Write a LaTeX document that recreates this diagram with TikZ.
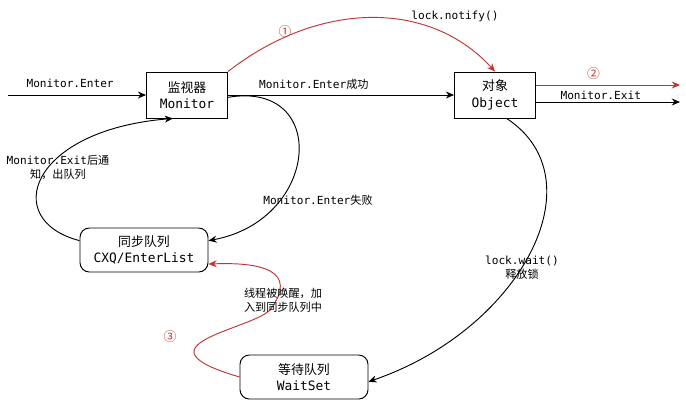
\documentclass[tikz,border=0pt]{standalone}
\usepackage{fontspec}
\setmainfont{DejaVu Sans Mono}
\newfontfamily\cjk{Noto Sans CJK SC}
\usetikzlibrary{arrows.meta}
\begin{document}
\begin{tikzpicture}[x=0.03cm,y=-0.03cm,font=\fontsize{9.5}{12}\selectfont,
  box/.style={draw,thick,align=center,minimum width=2.43cm,minimum height=1.38cm,inner sep=1pt,font=\fontsize{11}{14}\selectfont},
  rbox/.style={box,rounded corners=8pt,minimum width=3.84cm,minimum height=1.32cm},
  conn/.style={-{Stealth[length=7pt,width=6pt]},thick},
  rconn/.style={conn,color=red!70!black!80},
  lbl/.style={align=center,inner sep=1pt}]
\useasboundingbox (0,0) rectangle (686,409);
\node[box] (mon) at (187,95) {{\cjk 监视器}\\Monitor};
\node[box] (obj) at (495,95) {{\cjk 对象}\\Object};
\node[rbox] (sync) at (144,250) {{\cjk 同步队列}\\CXQ/EnterList};
\node[rbox] (wait) at (304,377) {{\cjk 等待队列}\\WaitSet};
\coordinate (in) at (8,95);
\coordinate (r1) at (680,85);
\coordinate (r2) at (680,102);

\draw[conn] (in) -- (mon.west) node[lbl,pos=0.45,above=5pt] {Monitor.Enter};
\draw[conn] (mon.east) -- (obj.west) node[lbl,pos=0.38,above=3pt] {Monitor.Enter{\cjk 成功}};
\draw[rconn] (obj.east|-r1) -- (r1) node[lbl,pos=0.4,above=3pt,red!70!black!80,font=\fontsize{11}{12}\selectfont] {\cjk ②};
\draw[conn] (obj.east|-r2) -- (r2) node[lbl,pos=0.45,above=1pt] {Monitor.Exit};
\draw[rconn] (mon.north east) .. controls (320,0) and (430,0) .. (obj.north);
\node[lbl,red!70!black!80,font=\fontsize{11}{12}\selectfont] at (285,32) {\cjk ①};
\node[lbl] at (455,16) {lock.notify()};
\draw[conn] ([yshift=-2pt]mon.east) .. controls (330,80) and (320,220) .. ([yshift=8pt]sync.east);
\node[lbl] at (318,200) {Monitor.Enter{\cjk 失败}};
\draw[conn] ([yshift=8pt]sync.west) .. controls (0,220) and (30,130) .. ([xshift=-12pt]mon.south);
\node[lbl] at (58,167) {Monitor.Exit{\cjk 后通}\\{\cjk 知，出队列}};
\draw[conn] ([xshift=10pt]obj.south) .. controls (600,180) and (520,330) .. ([yshift=-4pt]wait.east);
\node[lbl] at (522,268) {lock.wait()\\{\cjk 释放锁}};
\draw[rconn] (wait.west) .. controls (130,345) and (250,330) .. (270,310) .. controls (300,270) and (260,262) .. ([yshift=-12pt]sync.east);
\node[lbl,red!70!black!80,font=\fontsize{11}{12}\selectfont] at (170,337) {\cjk ③};
\node[lbl] at (283,300) {{\cjk 线程被唤醒，加}\\{\cjk 入到同步队列中}};
\end{tikzpicture}
\end{document}
